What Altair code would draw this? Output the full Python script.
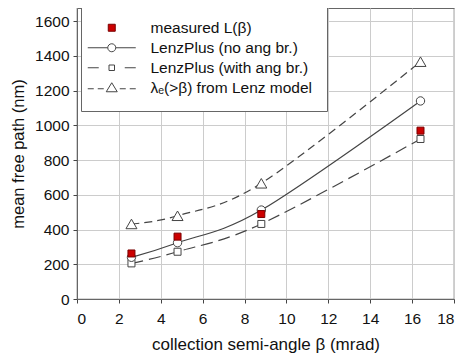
import altair as alt
import pandas as pd

beta = [2.6, 4.8, 8.8, 16.4]
measured = [262, 359, 489, 969]
no_ang = [240, 324, 512, 1140]
with_ang = [205, 272, 432, 921]
lenz = [432, 479, 666, 1366]

labels = ["measured L(β)", "LenzPlus (no ang br.)", "LenzPlus (with ang br.)",
          "λₑ(>β) from Lenz model"]

FONT = "Liberation Sans"
DARK = "#444444"

def df(vals):
    return pd.DataFrame({"beta": beta, "v": vals})

xs = alt.X("beta:Q", scale=alt.Scale(domain=[0, 18], nice=False),
           axis=alt.Axis(values=list(range(0, 19, 2)), format="d",
                         title="collection semi-angle β (mrad)", titleFontSize=17))
ys = alt.Y("v:Q", scale=alt.Scale(domain=[0, 1675], nice=False),
           axis=alt.Axis(values=list(range(0, 1601, 200)), format="d",
                         title="mean free path (nm)"))

def line(vals, dash):
    kw = dict(color=DARK, strokeWidth=1.2, interpolate="cardinal")
    if dash:
        kw["strokeDash"] = dash
    return alt.Chart(df(vals)).mark_line(**kw).encode(x=xs, y=ys)

def pts(vals, shape, size, fill, stroke):
    return alt.Chart(df(vals)).mark_point(shape=shape, size=size, filled=True,
                                          fill=fill, stroke=stroke, strokeWidth=1,
                                          opacity=1).encode(x=xs, y=ys)

# legend symbols (custom paths: unit = sqrt(size)/2 px), shifted right by D units
D = 1.8
def sx(v):
    return f"{v + D:.2f}"

p_meas = f"M{sx(-0.7)},-0.7L{sx(0.7)},-0.7L{sx(0.7)},0.7L{sx(-0.7)},0.7Z"
p_no = (f"M{sx(-4.8)},0L{sx(-0.8)},0M{sx(0.8)},0L{sx(4.8)},0"
        f"M{sx(0.8)},0A0.8,0.8 0 1,1 {sx(-0.8)},0A0.8,0.8 0 1,1 {sx(0.8)},0Z")
p_with = (f"M{sx(-4.8)},0L{sx(-2.6)},0M{sx(2.6)},0L{sx(4.8)},0"
          f"M{sx(-0.55)},-0.55L{sx(0.55)},-0.55L{sx(0.55)},0.55L{sx(-0.55)},0.55Z")
p_lenz = (f"M{sx(-4.8)},0.2L{sx(-3.6)},0.2M{sx(-2.8)},0.2L{sx(-1.6)},0.2"
          f"M{sx(1.6)},0.2L{sx(2.8)},0.2M{sx(3.6)},0.2L{sx(4.8)},0.2"
          f"M{sx(0)},-1L{sx(1.1)},0.8L{sx(-1.1)},0.8Z")

leg_df = pd.DataFrame({"beta": [2.6] * 4, "v": [400] * 4, "series": labels})
leg = alt.Chart(leg_df).mark_point(size=100, opacity=0, strokeWidth=1).encode(
    x=xs, y=ys,
    shape=alt.Shape("series:N", scale=alt.Scale(domain=labels, range=[p_meas, p_no, p_with, p_lenz]),
                    legend=alt.Legend(title=None, orient="none", legendX=4, legendY=-2,
                                      symbolOpacity=1, labelOffset=40, padding=14,
                                      rowPadding=3, symbolStrokeWidth=1,
                                      fillColor="white", strokeColor="#666666",
                                      labelFont=FONT, labelFontSize=15.5, labelColor="#111111",
                                      labelLimit=400)),
    fill=alt.Fill("series:N", scale=alt.Scale(domain=labels, range=["#cc0000", "white", "white", "white"]), legend=None),
    stroke=alt.Stroke("series:N", scale=alt.Scale(domain=labels, range=["#7a0000", DARK, DARK, DARK]), legend=None),
)

chart = alt.layer(
    leg,
    line(lenz, [8, 5]),
    line(no_ang, None),
    line(with_ang, [12, 6]),
    pts(with_ang, "square", 49, "white", DARK),
    pts(no_ang, "circle", 70, "white", DARK),
    pts(lenz, "triangle-up", 121, "white", DARK),
    pts(measured, "square", 49, "#cc0000", "#7a0000"),
).properties(
    width=377, height=291,
    autosize=alt.AutoSizeParams(type="none"),
    padding={"left": 69, "top": 0, "right": 12, "bottom": 56},
).configure_view(stroke="#666666", strokeWidth=1.2).configure_axis(
    grid=True, gridColor="#cccccc", gridWidth=1,
    domainColor="#666666", tickColor="#444444", tickSize=4,
    labelFont=FONT, labelFontSize=15.5, labelColor="#111111",
    titleFont=FONT, titleFontSize=16.5, titleColor="#111111", titleFontWeight="normal",
).configure_axisX(labelPadding=8, titlePadding=10).configure_axisY(labelPadding=4, titlePadding=8)

chart.save("out.html", embed_options={"renderer": "svg", "actions": False})
